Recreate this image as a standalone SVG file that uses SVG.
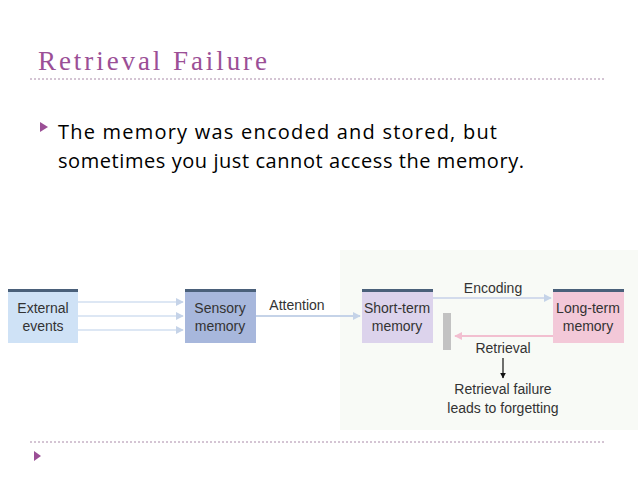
<svg xmlns="http://www.w3.org/2000/svg" width="638" height="479" viewBox="0 0 638 479">
<style>
.t{font-family:"Liberation Sans",Arial,sans-serif;font-size:14px;fill:#333;text-anchor:middle}
.top{fill:#4a607a}
.c{stroke-width:2;fill:none}
</style>
<defs>
<marker id="ab" viewBox="0 0 10 10" refX="9" refY="5" markerWidth="4" markerHeight="4" orient="auto"><path d="M0,0L10,5L0,10z" fill="#c5d3e8"/></marker>
<marker id="ap" viewBox="0 0 10 10" refX="9" refY="5" markerWidth="4" markerHeight="4" orient="auto"><path d="M0,0L10,5L0,10z" fill="#f2bfd0"/></marker>
<marker id="ak" viewBox="0 0 10 10" refX="9" refY="5" markerWidth="5" markerHeight="5" orient="auto"><path d="M0,0L10,5L0,10z" fill="#111"/></marker>
</defs>
<rect width="638" height="479" fill="#fff"/>
<text x="38" y="70" font-family="Liberation Serif,serif" font-size="27" fill="#9b4f96" textLength="229" lengthAdjust="spacing">Retrieval Failure</text>
<line x1="30" y1="79" x2="605" y2="79" stroke="#a98aa8" stroke-dasharray="2,2"/>
<path d="M40,122L48,127L40,132z" fill="#9b4f96"/>
<text font-family="Open Sans,sans-serif" font-size="20" fill="#000"><tspan x="58" y="139" textLength="439" lengthAdjust="spacing">The memory was encoded and stored, but</tspan><tspan x="58" y="168" textLength="466" lengthAdjust="spacing">sometimes you just cannot access the memory.</tspan></text>
<rect x="340" y="250" width="298" height="180" fill="#f8faf6"/>
<rect x="443" y="313" width="8" height="37" fill="#c2c2c2"/>
<g id="connectors">
<line x1="78" y1="302" x2="183" y2="302" stroke="#dde7f4" class="c" marker-end="url(#ab)"/>
<line x1="78" y1="316" x2="183" y2="316" stroke="#dde7f4" class="c" marker-end="url(#ab)"/>
<line x1="78" y1="330" x2="183" y2="330" stroke="#dde7f4" class="c" marker-end="url(#ab)"/>
<line x1="256" y1="316" x2="360" y2="316" stroke="#c5d3e8" class="c" marker-end="url(#ab)"/>
<text x="297" y="310" class="t">Attention</text>
<line x1="433" y1="298" x2="551" y2="298" stroke="#d3dbec" class="c" marker-end="url(#ab)"/>
<text x="493" y="293" class="t">Encoding</text>
<line x1="553" y1="336" x2="455" y2="336" stroke="#f2bfd0" class="c" marker-end="url(#ap)"/>
<text x="503" y="353" class="t">Retrieval</text>
<line x1="503" y1="358" x2="503" y2="378" stroke="#111" stroke-width="1.2" marker-end="url(#ak)"/>
</g>
<text x="503" y="394" class="t">Retrieval failure</text>
<text x="503" y="413" class="t">leads to forgetting</text>
<g id="external"><rect x="8" y="289" width="70" height="54" fill="#cfe2f6"/><rect x="8" y="289" width="70" height="3" class="top"/><text x="43" y="313" class="t">External</text><text x="43" y="331" class="t">events</text></g>
<g id="sensory"><rect x="185" y="289" width="71" height="54" fill="#a7b7dc"/><rect x="185" y="289" width="71" height="3" class="top"/><text x="220" y="313" class="t">Sensory</text><text x="220" y="331" class="t">memory</text></g>
<g id="short"><rect x="362" y="289" width="71" height="54" fill="#dcd3ec"/><rect x="362" y="289" width="71" height="3" class="top"/><text x="397" y="313" class="t">Short-term</text><text x="397" y="331" class="t">memory</text></g>
<g id="long"><rect x="553" y="289" width="71" height="54" fill="#f3c8d8"/><rect x="553" y="289" width="71" height="3" class="top"/><text x="588" y="313" class="t">Long-term</text><text x="588" y="331" class="t">memory</text></g>
<line x1="30" y1="442" x2="605" y2="442" stroke="#a98aa8" stroke-dasharray="2,2"/>
<path d="M34,451L41,456L34,461z" fill="#9b4f96"/>
</svg>
